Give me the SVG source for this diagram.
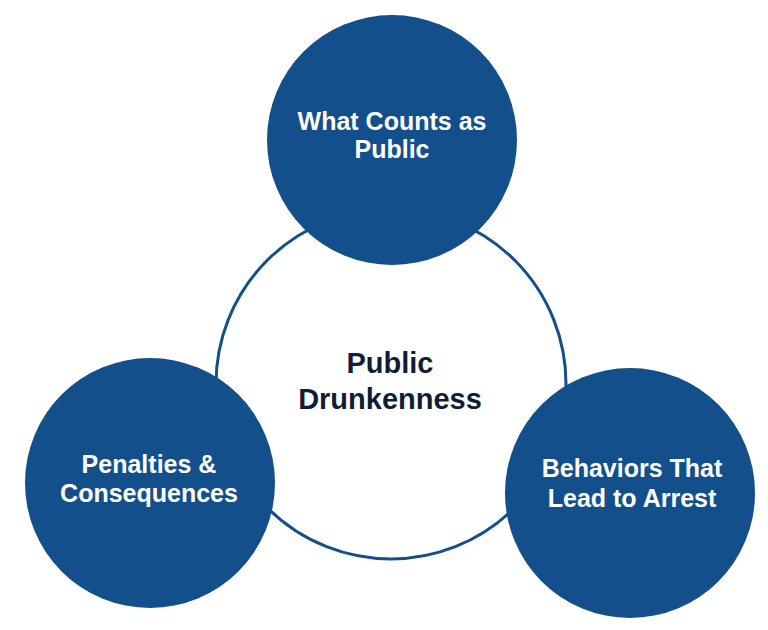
<svg xmlns="http://www.w3.org/2000/svg" width="768" height="630" viewBox="0 0 768 630">
<style>
.sat{fill:#134f8a;}
.hub{fill:#ffffff;stroke:#134f8a;stroke-width:3;}
.lt{font-family:"Liberation Sans",Arial,sans-serif;font-weight:bold;font-size:25px;fill:#ffffff;text-anchor:middle;}
.ct{font-family:"Liberation Sans",Arial,sans-serif;font-weight:bold;font-size:29px;fill:#0f1e36;text-anchor:middle;}
</style>
<rect width="768" height="630" fill="#ffffff"/>
<g id="connectors"></g>
<g id="hub">
<circle class="hub" cx="391" cy="384" r="175"/>
<text class="ct" x="390" y="373">Public</text>
<text class="ct" x="390" y="409">Drunkenness</text>
</g>
<g id="node-top">
<circle class="sat" cx="392" cy="140" r="125"/>
<text class="lt" x="392" y="130">What Counts as</text>
<text class="lt" x="392" y="158">Public</text>
</g>
<g id="node-left">
<circle class="sat" cx="150" cy="483" r="125"/>
<text class="lt" x="149" y="473">Penalties &amp;</text>
<text class="lt" x="149" y="502">Consequences</text>
</g>
<g id="node-right">
<circle class="sat" cx="630" cy="493" r="125"/>
<text class="lt" x="632" y="477">Behaviors That</text>
<text class="lt" x="632" y="507">Lead to Arrest</text>
</g>
</svg>
